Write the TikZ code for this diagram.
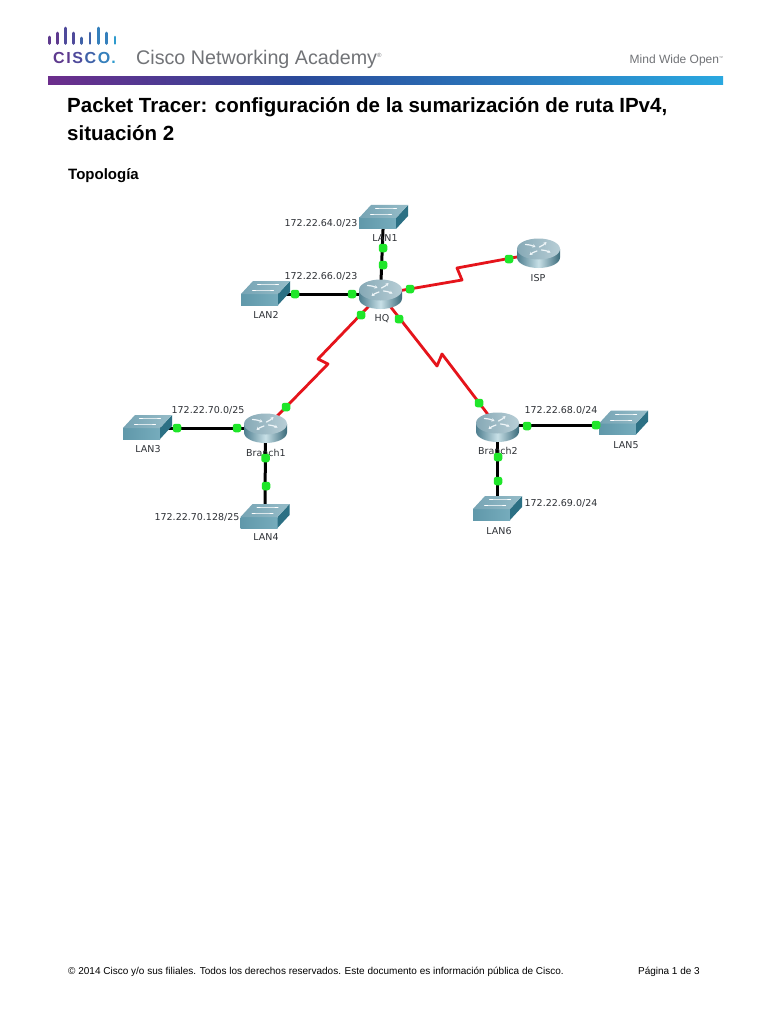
\documentclass[tikz,border=0pt]{standalone}
\usepackage{fontspec}
\setmainfont{Liberation Sans}
\newfontfamily\netfont{DejaVu Sans}
\usetikzlibrary{arrows.meta}
\definecolor{logoA}{HTML}{5E3A8E}
\definecolor{logoB}{HTML}{4F4A9B}
\definecolor{logoC}{HTML}{3F62A8}
\definecolor{logoD}{HTML}{3580BC}
\definecolor{logoE}{HTML}{2E9ACD}
\definecolor{barA}{HTML}{6C2D8C}
\definecolor{barB}{HTML}{2A4A9A}
\definecolor{barC}{HTML}{2AA8E0}
\definecolor{wirered}{HTML}{E5141B}
\definecolor{portgreen}{HTML}{1FE62A}
\definecolor{labelink}{HTML}{2E3136}
\definecolor{headgrey}{HTML}{717377}
\definecolor{rbodyL}{HTML}{4E7E8F}
\definecolor{rbodyM}{HTML}{C8E0E7}
\definecolor{rbodyR}{HTML}{3A6A7A}
\definecolor{rtopL}{HTML}{86A9B6}
\definecolor{rtopR}{HTML}{B8CED6}
\definecolor{rarrow}{HTML}{EEF5F8}
\definecolor{sfrontL}{HTML}{6098AA}
\definecolor{sfrontR}{HTML}{76ACBC}
\definecolor{sside}{HTML}{2C7084}
\definecolor{stopL}{HTML}{76A4B4}
\definecolor{stopR}{HTML}{96BCC8}
\tikzset{
  x=1pt,y=-1pt,
  lanwire/.style={draw=black,line width=3pt},
  wanwire/.style={draw=wirered,line width=2.8pt,line join=round},
  port/.style={fill=portgreen,draw=none,rounded corners=2.5pt,minimum size=8.5pt,inner sep=0pt},
  routerbox/.style={minimum width=43pt,minimum height=30pt,inner sep=0pt},
  switchbox/.style={minimum width=49pt,minimum height=24pt,inner sep=0pt},
  netlabel/.style={font=\netfont\fontsize{9.5}{11}\selectfont,text=labelink,inner sep=0pt},
  routerpic/.pic={
    \path[left color=rbodyL,right color=rbodyR,middle color=rbodyM]
      (-21.5,-4) -- (-21.5,4.5) arc[start angle=180,end angle=0,x radius=21.5,y radius=10.5] -- (21.5,-4) -- cycle;
    \path[left color=rtopL,right color=rtopR]
      (0,-4) ellipse[x radius=21.5,y radius=10.5];
    \begin{scope}[draw=rarrow,line width=1.2pt,line cap=round]
      \draw[-{Stealth[length=3pt,width=3.5pt]}] (-13,-8.5) to[bend left=10] (-3,-6);
      \draw[-{Stealth[length=3pt,width=3.5pt]}] (3,-3) to[bend left=10] (12,-0.5);
      \draw[-{Stealth[length=3pt,width=3.5pt]}] (1,-6) to[bend right=10] (8,-11);
      \draw[-{Stealth[length=3pt,width=3.5pt]}] (-1.5,-2) to[bend right=10] (-9,2);
    \end{scope}
  },
  switchpic/.pic={
    \path[left color=sfrontL,right color=sfrontR]
      (-24.5,1) -- (12.5,1) -- (12.5,12) -- (-24.5,12) -- cycle;
    \path[fill=sside]
      (12.5,1) -- (24.5,-12) -- (24.5,-1) -- (12.5,12) -- cycle;
    \path[left color=stopL,right color=stopR]
      (-24.5,1) -- (12.5,1) -- (24.5,-12) -- (-12.5,-12) -- cycle;
    \begin{scope}[draw=white,line width=1pt,line cap=round]
      \draw (-13,-2.5) -- (-10,-2.5);
      \draw (-8,-8.5) -- (-5,-8.5);
      \draw (5,-2.5) -- (8,-2.5);
      \draw (10,-8.5) -- (13,-8.5);
      \draw[line width=.4pt,opacity=.7] (-10,-2.5) -- (5,-2.5);
      \draw[line width=.4pt,opacity=.7] (-5,-8.5) -- (10,-8.5);
    \end{scope}
  }
}
\begin{document}
\begin{tikzpicture}
\useasboundingbox (0,0) rectangle (768,1024);
\fill[white] (0,0) rectangle (768,1024);

% header
\foreach \bx/\bt/\bc in {49.5/37/logoA,57.5/33/logoA,65.5/28/logoB,73.5/33/logoB,81.5/38/logoC,90/33/logoC,98.5/28/logoD,106.5/33/logoD,115/37/logoE}
  \draw[\bc,line width=2.6pt,line cap=round] (\bx,43.5) -- (\bx,\bt);
\node[anchor=base west,inner sep=0pt,font=\bfseries\fontsize{16}{18}\selectfont] (cisco) at (53,63.5)
  {\textcolor{logoA}{C}\kern1.6pt\textcolor{logoA}{I}\kern1.6pt\textcolor{logoB}{S}\kern1.6pt\textcolor{logoC}{C}\kern1.6pt\textcolor{logoD}{O}\kern1pt\textcolor{logoE}{.}};
\node[anchor=base west,inner sep=0pt,text=headgrey,font=\fontsize{19.7}{24}\selectfont] (academy) at (136,65)
  {Cisco Networking Academy\raisebox{7pt}{\fontsize{6}{6}\selectfont ®}};
\node[anchor=base west,inner sep=0pt,text=headgrey,font=\fontsize{12}{14}\selectfont] (mind) at (629.5,64)
  {Mind Wide Open\raisebox{4pt}{\fontsize{4}{4}\selectfont ™}};
\path[left color=barA,right color=barB] (48,77) rectangle (300,84.5);
\path[left color=barB,right color=barC] (299.5,77) rectangle (723,84.5);

% titles
\node[anchor=north west,align=left,inner sep=0pt,text=black,font=\bfseries\fontsize{20.5}{28}\selectfont] (title) at (67,97)
  {Packet Tracer: configuración de la sumarización de ruta IPv4,\\situación 2};
\node[anchor=base west,inner sep=0pt,text=black,font=\bfseries\fontsize{15}{17}\selectfont] (topo) at (68,180) {Topología};

% device nodes
\node[routerbox] (hq) at (380.5,294) {};
\node[routerbox] (isp) at (538.5,253) {};
\node[routerbox] (branch1) at (265.5,428) {};
\node[routerbox] (branch2) at (497.5,427) {};
\node[switchbox] (lan1) at (383.5,217) {};
\node[switchbox] (lan2) at (265.5,293) {};
\node[switchbox] (lan3) at (147.5,427) {};
\node[switchbox] (lan4) at (265,516) {};
\node[switchbox] (lan5) at (623.5,422.5) {};
\node[switchbox] (lan6) at (497.5,508) {};

% bends of the serial links
\coordinate (ispA) at (462,280);
\coordinate (ispB) at (457,268);
\coordinate (brA) at (318,359);
\coordinate (brB) at (328,364);
\coordinate (bsA) at (437,366);
\coordinate (bsB) at (442,354);
\coordinate (btwoE) at (497.5,425.5);

% links
\draw[lanwire] (lan1.center) -- (hq.center);
\draw[lanwire] (lan2.center |- hq.center) -- (hq.center);
\draw[lanwire] (lan3.center |- branch1.center) -- (branch1.center);
\draw[lanwire] (branch1.center) -- (lan4.center);
\draw[lanwire] (btwoE) -- (lan5.center |- btwoE);
\draw[lanwire] (branch2.center) -- (lan6.center);
\draw[wanwire] (hq.center) -- (ispA) -- (ispB) -- (isp.center);
\draw[wanwire] (hq.center) -- (brA) -- (brB) -- (branch1.center);
\draw[wanwire] (hq.center) -- (bsA) -- (bsB) -- (branch2.center);

% devices
\foreach \dv in {hq,isp,branch1,branch2} \pic at (\dv.center) {routerpic};
\foreach \dv in {lan1,lan2,lan3,lan4,lan5,lan6} \pic at (\dv.center) {switchpic};

% labels
\node[netlabel] (l1) at (321,223.5) {172.22.64.0/23};
\node[netlabel] (n1) at (385,238) {LAN1};
\node[netlabel] (l2) at (321,276.5) {172.22.66.0/23};
\node[netlabel] (n2) at (266,315) {LAN2};
\node[netlabel] (nhq) at (382,319) {HQ};
\node[netlabel] (nisp) at (538,278) {ISP};
\node[netlabel] (l3) at (208,410) {172.22.70.0/25};
\node[netlabel] (n3) at (148,449) {LAN3};
\node[netlabel] (nb1) at (266,453) {Branch1};
\node[netlabel] (l4) at (197,517) {172.22.70.128/25};
\node[netlabel] (n4) at (266,537) {LAN4};
\node[netlabel] (l5) at (561,410) {172.22.68.0/24};
\node[netlabel] (n5) at (626,445) {LAN5};
\node[netlabel] (nb2) at (498,451) {Branch2};
\node[netlabel] (l6) at (561,503) {172.22.69.0/24};
\node[netlabel] (n6) at (499,531) {LAN6};

% ports
\node[port] (p1) at (383,248) {};
\node[port] (p2) at (383,265) {};
\node[port] (p3) at (295,294) {};
\node[port] (p4) at (352,294) {};
\node[port] (p5) at (410,289) {};
\node[port] (p6) at (509,259) {};
\node[port] (p7) at (361,315) {};
\node[port] (p8) at (286,407) {};
\node[port] (p9) at (399,319) {};
\node[port] (p10) at (479,403) {};
\node[port] (p11) at (177,428) {};
\node[port] (p12) at (237,428) {};
\node[port] (p13) at (265.5,458) {};
\node[port] (p14) at (266,486) {};
\node[port] (p15) at (527,426) {};
\node[port] (p16) at (596,425) {};
\node[port] (p17) at (498,457) {};
\node[port] (p18) at (498,481) {};

% footer
\node[anchor=base west,inner sep=0pt,text=black,font=\fontsize{10}{12}\selectfont] (foot) at (68,974)
  {© 2014 Cisco y/o sus filiales. Todos los derechos reservados. Este documento es información pública de Cisco.};
\node[anchor=base east,inner sep=0pt,text=black,font=\fontsize{10}{12}\selectfont] (page) at (700,974) {Página 1 de 3};
\end{tikzpicture}
\end{document}
